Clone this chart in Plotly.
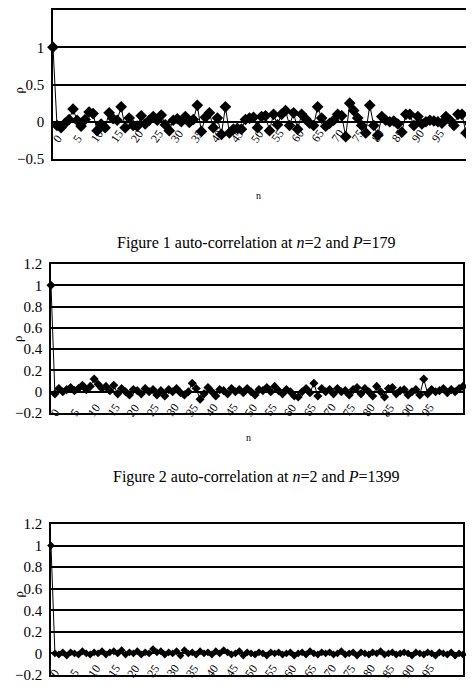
import plotly.graph_objects as go

# lag index and auto-correlation values
lags = list(range(106))

rho_p179 = [1.0, -0.05, -0.08, -0.02, 0.03, 0.17, 0.02, -0.06, 0.03, 0.13,
            0.11, -0.12, -0.03, -0.08, 0.12, 0.04, 0.02, 0.2, -0.08, 0.05,
            -0.05, -0.06, 0.08, -0.03, 0.02, 0.07, 0.02, 0.09, -0.04, -0.12,
            0.02, 0.04, 0.0, 0.07, -0.01, 0.03, 0.22, -0.13, 0.06, 0.12,
            -0.08, 0.05, -0.17, 0.2, -0.15, -0.1, -0.09, -0.1, 0.03, 0.05,
            0.06, -0.08, 0.07, 0.08, -0.12, 0.1, -0.04, 0.1, 0.15, -0.05,
            0.12, -0.1, 0.1, 0.04, -0.02, -0.05, 0.2, 0.05, -0.06, -0.02,
            0.02, 0.1, 0.08, -0.2, 0.25, 0.15, 0.05, -0.05, -0.15, 0.22,
            -0.05, -0.18, 0.07, 0.02, 0.0, 0.01, -0.03, -0.14, 0.1, 0.1,
            -0.05, 0.07, -0.03, 0.0, 0.02, 0.01, 0.0, -0.02, 0.07, 0.02,
            -0.05, 0.1, 0.1, -0.15, -0.03, -0.02]

rho_p1399 = [1.0, -0.02, 0.03, 0.0, 0.02, 0.04, 0.01, 0.03, 0.06, 0.02,
             0.05, 0.12, 0.07, 0.03, 0.05, 0.01, 0.06, -0.02, 0.03, 0.0,
             -0.03, 0.02, 0.01, -0.02, 0.03, 0.0, 0.02, -0.03, 0.01, -0.04,
             0.02, 0.0, 0.03, -0.01, -0.03, 0.0, 0.08, 0.03, -0.07, -0.02,
             0.04, 0.0, -0.04, 0.02, 0.01, -0.02, 0.03, 0.0, 0.02, -0.01,
             0.03, 0.0, -0.03, 0.02, 0.01, 0.04, 0.0, 0.05, 0.01, -0.02,
             0.02, 0.0, -0.04, -0.05, 0.0, 0.03, -0.01, 0.08, -0.04, 0.03,
             0.0, 0.02, -0.02, 0.03, 0.0, 0.01, -0.03, 0.02, 0.04, -0.02,
             0.03, 0.0, -0.04, 0.05, 0.0, -0.05, 0.03, 0.04, -0.02, 0.01,
             0.02, -0.03, 0.0, 0.02, -0.03, 0.12, -0.02, 0.02, 0.0, 0.01,
             0.03, -0.01, 0.02, 0.0, 0.03, 0.05]

rho_p3 = [1.0, 0.0, -0.01, 0.01, -0.02, 0.01, 0.0, -0.01, 0.02, 0.0,
          -0.01, 0.01, 0.0, 0.02, -0.01, 0.01, 0.02, 0.0, 0.03, -0.01,
          0.01, 0.0, 0.02, -0.01, 0.01, 0.0, 0.04, 0.01, 0.02, -0.01,
          0.01, 0.0, 0.02, -0.02, 0.03, 0.0, 0.01, -0.01, 0.02, 0.0,
          0.01, -0.01, 0.02, 0.0, 0.03, 0.01, -0.01, 0.0, 0.02, -0.02,
          0.01, 0.0, -0.01, 0.01, 0.0, -0.02, 0.01, 0.0, 0.01, -0.01,
          0.0, 0.01, -0.02, 0.0, 0.01, -0.01, 0.02, 0.0, -0.01, 0.01,
          0.0, 0.01, -0.01, 0.0, 0.02, -0.01, 0.0, 0.01, -0.02, 0.01,
          0.0, -0.01, 0.01, 0.0, 0.02, -0.01, 0.0, 0.01, -0.01, 0.0,
          0.01, 0.0, -0.02, 0.01, 0.0, -0.01, 0.01, 0.0, -0.02, 0.01,
          0.0, -0.01, 0.01, -0.02, 0.0, -0.01]

tick_labels = [str(v) for v in range(0, 100, 5)]

captions = ["Figure 1 auto-correlation at <i>n</i>=2 and <i>P</i>=179",
            "Figure 2 auto-correlation at <i>n</i>=2 and <i>P</i>=1399"]

W, H = 474, 691
FONT = "Liberation Serif"
OFF_X, OFF_Y = 5, 8  # page margin around the plot div


def px(v):
    return max(v - OFF_X, 0)


def py(v):
    return max(v - OFF_Y, 0)


# pixel boxes of the three panels (screen coords): left, right, top, bottom
# lab_y is where the rotated lag labels sit, as a fraction of the panel height
panels = [
    dict(y=rho_p179, box=(50, 471, 10, 159), rng=[-0.5, 1.5], dt=0.5, ms=9, lab_y=0.075),
    dict(y=rho_p1399, box=(48, 460, 264, 413), rng=[-0.2, 1.2], dt=0.2, ms=7, lab_y=-0.06),
    dict(y=rho_p3, box=(48, 460, 524, 675), rng=[-0.2, 1.2], dt=0.2, ms=6, lab_y=-0.05),
]

fig = go.Figure()
annotations = []
for i, p in enumerate(panels, start=1):
    l, r, t, b = p["box"]
    l, r, t, b = px(l), px(r), py(t), py(b)
    xa = "x" if i == 1 else f"x{i}"
    ya = "y" if i == 1 else f"y{i}"
    fig.add_trace(go.Scatter(
        x=lags, y=p["y"], xaxis=xa, yaxis=ya, mode="lines+markers",
        line=dict(color="black", width=1),
        marker=dict(symbol="diamond", size=p["ms"], color="black"),
        showlegend=False, cliponaxis=False))
    fig.layout[f"xaxis{'' if i == 1 else i}"] = dict(
        domain=[l / W, r / W], anchor=ya, range=[0, 105],
        showticklabels=False, showgrid=False, zeroline=False,
        showline=True, linecolor="black", linewidth=1.5, mirror=True, ticks="")
    fig.layout[f"yaxis{'' if i == 1 else i}"] = dict(
        domain=[1 - b / H, 1 - t / H], anchor=xa, range=p["rng"], dtick=p["dt"],
        showgrid=True, gridcolor="black", gridwidth=1.5,
        zeroline=True, zerolinecolor="black", zerolinewidth=1.5,
        showline=True, linecolor="black", linewidth=1.5, mirror=True, ticks="",
        ticklabelstandoff=4,
        tickfont=dict(family=FONT, size=15, color="black"))
    for k, lab in enumerate(tick_labels):
        annotations.append(dict(
            x=k * 5 + 1, y=p["lab_y"], xref=xa, yref=f"{ya} domain", text=lab,
            showarrow=False, textangle=-55,
            font=dict(family=FONT, size=12, color="black")))
    annotations.append(dict(
        x=0, y=1 - (t + b) / 2 / H, xref="paper", yref="paper", text="ρ",
        xanchor="left", showarrow=False, textangle=-90,
        font=dict(family=FONT, size=13, color="black")))

annotations.append(dict(x=px(255) / W, y=1 - py(188) / H, xref="paper", yref="paper",
                        text="n", showarrow=False,
                        font=dict(family=FONT, size=10, color="black")))
annotations.append(dict(x=px(245) / W, y=1 - py(437) / H, xref="paper", yref="paper",
                        text="n", showarrow=False,
                        font=dict(family=FONT, size=10, color="black")))
for txt, yp in zip(captions, [232, 488]):
    annotations.append(dict(x=px(253) / W, y=1 - py(yp) / H, xref="paper", yref="paper",
                            text=txt, showarrow=False,
                            font=dict(family=FONT, size=16, color="black")))

fig.update_layout(width=W, height=H,
                  margin=dict(l=0, r=0, t=0, b=0, autoexpand=False),
                  paper_bgcolor="white", plot_bgcolor="white",
                  annotations=annotations)

fig.write_html("out.html")
